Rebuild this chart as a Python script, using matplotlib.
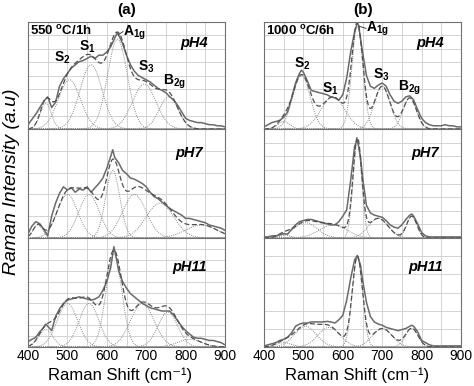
import matplotlib.pyplot as plt
import numpy as np
from matplotlib.ticker import MultipleLocator

plt.rcParams['font.family'] = ['Liberation Sans', 'DejaVu Sans']
plt.rcParams['mathtext.fontset'] = 'custom'
plt.rcParams['mathtext.rm'] = 'Liberation Sans'
plt.rcParams['mathtext.bf'] = 'Liberation Sans:bold'

# ---- spectra (intensity in % of panel height) ----
a_ph4_shift = [400, 410, 420, 430, 440, 450, 460, 470, 480, 490, 500, 510, 520, 530, 540, 550, 560, 570,
               580, 590, 600, 610, 620, 627, 635, 640, 650, 660, 670, 680, 690, 700, 710, 720, 730, 740,
               750, 760, 770, 780, 790, 800, 810, 820, 830, 840, 850, 860, 870, 880, 890, 900]
a_ph4_int = [4, 9, 14, 20, 26, 30, 20, 25, 40, 47, 52, 57, 60, 63, 64, 66, 68, 66,
             69, 69, 72, 77, 85, 90, 84, 80, 69, 60, 54, 50, 48, 46, 44, 41, 38, 36,
             34, 30, 27, 22, 16, 10, 8, 7, 6, 6, 5, 4, 4, 3, 3, 2]

a_ph7_shift = [400, 410, 420, 430, 440, 450, 460, 470, 480, 490, 500, 510, 520, 530, 540, 550, 560, 570,
               580, 590, 600, 610, 615, 620, 630, 640, 650, 660, 670, 680, 690, 700, 710, 720, 730, 740,
               750, 760, 770, 780, 790, 800, 810, 820, 830, 840, 850, 860, 870, 880, 890, 900]
a_ph7_int = [4, 11, 15, 13, 8, 2, 20, 32, 41, 47, 44, 46, 42, 45, 44, 47, 42, 46,
             50, 55, 64, 75, 81, 74, 69, 62, 59, 55, 54, 52, 50, 47, 42, 38, 36, 33,
             30, 27, 25, 23, 21, 18, 18, 17, 16, 15, 14, 12, 11, 10, 9, 7]

a_ph11_shift = [400, 410, 420, 430, 440, 445, 450, 460, 470, 480, 490, 500, 510, 520, 530, 540, 550, 560,
                570, 580, 590, 600, 610, 618, 625, 630, 640, 650, 660, 670, 680, 690, 700, 710, 720, 730,
                740, 750, 760, 770, 780, 790, 800, 810, 820, 830, 840, 850, 860, 870, 880, 890, 900]
a_ph11_int = [5, 7, 9, 14, 18, 21, 19, 15, 28, 35, 40, 43, 44, 45, 46, 45, 44, 43,
              44, 46, 52, 60, 73, 92, 80, 70, 60, 54, 49, 46, 43, 40, 38, 36, 35, 34,
              33, 33, 33, 29, 24, 19, 15, 12, 9, 8, 8, 7, 6, 6, 5, 4, 2]

b_ph4_shift = [400, 410, 420, 430, 440, 450, 460, 470, 480, 490, 495, 500, 510, 520, 530, 540, 550, 560,
               570, 580, 590, 600, 610, 620, 630, 637, 640, 650, 660, 670, 680, 690, 700, 710, 720, 730,
               740, 750, 760, 770, 780, 790, 800, 810, 820, 830, 840, 850, 860, 870, 880, 890, 900]
b_ph4_int = [2, 4, 6, 7, 8, 11, 16, 29, 43, 52, 55, 53, 45, 36, 35, 34, 33, 32,
             30, 29, 27, 32, 48, 72, 91, 99, 97, 72, 50, 40, 38, 41, 43, 40, 32, 26,
             24, 26, 30, 31, 27, 18, 10, 6, 4, 3, 3, 3, 4, 3, 3, 2, 2]

b_ph7_shift = [400, 410, 420, 430, 440, 450, 460, 470, 480, 490, 500, 510, 520, 530, 540, 550, 560, 570,
               580, 590, 600, 610, 620, 630, 637, 645, 650, 660, 670, 680, 690, 700, 710, 720, 730, 740,
               750, 760, 770, 775, 780, 790, 800, 810, 820, 830, 840, 850, 860, 870, 880, 890, 900]
b_ph7_int = [1, 1, 2, 2, 3, 4, 3.5, 8, 12, 15, 16, 17, 17, 16, 15, 14, 13, 12,
             12, 15, 20, 26, 53, 84, 90.5, 74, 56, 30, 23, 21, 20, 19, 16, 12, 10, 9,
             12, 17, 21, 22, 20, 13, 5, 2, 1, 1, 1, 1, 1, 1, 1, 1, 1]

b_ph11_shift = [400, 410, 420, 430, 440, 450, 460, 470, 480, 490, 500, 510, 520, 530, 540, 550, 560, 570,
                580, 590, 600, 610, 620, 630, 637, 645, 650, 660, 670, 680, 690, 700, 710, 720, 730, 740,
                750, 760, 770, 775, 780, 790, 800, 810, 820, 830, 840, 850, 860, 870, 880, 890, 900]
b_ph11_int = [1, 2, 3, 4, 6, 7, 9, 13, 19, 21, 22, 22, 23, 23, 23, 23, 23.5, 23,
              22, 25, 29, 43, 63, 80, 84, 75, 62, 41, 28, 23, 21, 20, 18, 17, 16, 15,
              16, 17, 19, 20, 19, 14, 6, 4, 2, 1, 1, 1, 1, 1, 1, 1, 1]

# ---- fitted peaks: centre (cm-1), height, sigma ----
a_ph4_centre = [445, 505, 560, 627, 695, 757]
a_ph4_height = [24, 46, 60, 84, 42, 30]
a_ph4_sigma = [14, 28, 28, 25, 30, 24]

a_ph7_centre = [425, 500, 555, 615, 670, 735, 840]
a_ph7_height = [12, 40, 40, 62, 40, 32, 12]
a_ph7_sigma = [12, 26, 26, 18, 30, 35, 40]

a_ph11_centre = [445, 500, 555, 618, 690, 755, 810]
a_ph11_height = [16, 40, 40, 85, 40, 32, 7]
a_ph11_sigma = [18, 26, 25, 20, 30, 25, 30]

b_ph4_centre = [450, 495, 575, 637, 700, 770]
b_ph4_height = [7, 50, 30, 96, 40, 29]
b_ph4_sigma = [15, 22, 30, 14, 20, 17]

b_ph7_centre = [450, 505, 575, 637, 690, 775]
b_ph7_height = [3, 14, 12, 88, 18, 20]
b_ph7_sigma = [15, 30, 35, 11, 25, 13]

b_ph11_centre = [450, 505, 565, 637, 700, 775]
b_ph11_height = [4, 19, 18, 82, 17, 17]
b_ph11_sigma = [20, 28, 28, 13, 25, 16]

ph_labels = ['pH4', 'pH7', 'pH11']
grid_rows = [[8, 5, 10], [8, 8, 6]]   # horizontal grid intervals per panel

panels = [
    [(a_ph4_shift, a_ph4_int, a_ph4_centre, a_ph4_height, a_ph4_sigma),
     (a_ph7_shift, a_ph7_int, a_ph7_centre, a_ph7_height, a_ph7_sigma),
     (a_ph11_shift, a_ph11_int, a_ph11_centre, a_ph11_height, a_ph11_sigma)],
    [(b_ph4_shift, b_ph4_int, b_ph4_centre, b_ph4_height, b_ph4_sigma),
     (b_ph7_shift, b_ph7_int, b_ph7_centre, b_ph7_height, b_ph7_sigma),
     (b_ph11_shift, b_ph11_int, b_ph11_centre, b_ph11_height, b_ph11_sigma)],
]

W, H = 474, 386
fig = plt.figure(figsize=(W / 100, H / 100), dpi=100)

col_left = [28, 264]
col_width = 197
row_edges = [22, 129, 238, 347]

xs = np.linspace(400, 900, 501)

def gauss(x, c, h, s):
    return h * np.exp(-(x - c) ** 2 / (2.0 * s ** 2))

axes = {}
for col in range(2):
    for row in range(3):
        top, bot = row_edges[row], row_edges[row + 1]
        ax = fig.add_axes([col_left[col] / W, (H - bot) / H, col_width / W, (bot - top) / H])
        axes[(col, row)] = ax
        shift, inten, centre, height, sigma = panels[col][row]

        total = np.zeros_like(xs)
        for c, h, s in zip(centre, height, sigma):
            comp = gauss(xs, c, h, s)
            total += comp
            ax.plot(xs, comp, color='#8a8a8a', lw=0.7, ls=(0, (1, 1.2)))
        ax.plot(shift, inten, color='#6a6a6a', lw=1.1)
        ax.plot(xs, total, color='#505050', lw=0.9, ls=(0, (4, 2)))

        ax.set_xlim(400, 900)
        ax.set_ylim(0, 100)
        ax.xaxis.set_major_locator(MultipleLocator(100))
        ax.xaxis.set_minor_locator(MultipleLocator(50))
        ax.yaxis.set_major_locator(MultipleLocator(100.0 / grid_rows[col][row]))
        ax.grid(True, which='both', color='#cccccc', lw=0.6)
        ax.set_axisbelow(True)
        ax.tick_params(which='both', length=0, labelleft=False)
        if row < 2:
            ax.tick_params(labelbottom=False)
        else:
            ax.tick_params(labelsize=10, pad=1.5)
        for sp in ax.spines.values():
            sp.set_color('#707070')
            sp.set_linewidth(0.8)

        ax.text(821 if row == 0 else 810, [80, 78, 73][row], ph_labels[row],
                fontsize=10.5, fontweight='bold', fontstyle='italic', ha='center', va='center')

# header texts and peak labels
lab = dict(fontsize=10, fontweight='bold', ha='center', va='center')
ax = axes[(0, 0)]
ax.text(404, 92, '550 $^{\\mathbf{o}}$C/1h', fontsize=9.5, fontweight='bold', ha='left', va='center')
ax.text(488, 67, 'S$_{\\mathbf{2}}$', **lab)
ax.text(551, 77, 'S$_{\\mathbf{1}}$', **lab)
ax.text(642, 90, 'A$_{\\mathbf{1g}}$', fontsize=10, fontweight='bold', ha='left', va='center')
ax.plot([629, 641], [88, 91], color='#404040', lw=0.7)
ax.text(700, 58, 'S$_{\\mathbf{3}}$', **lab)
ax.text(772, 44, 'B$_{\\mathbf{2g}}$', **lab)

ax = axes[(1, 0)]
ax.text(404, 92, '1000 $^{\\mathbf{o}}$C/6h', fontsize=9.5, fontweight='bold', ha='left', va='center')
ax.text(498, 61, 'S$_{\\mathbf{2}}$', **lab)
ax.text(567, 38, 'S$_{\\mathbf{1}}$', **lab)
ax.text(660, 94, 'A$_{\\mathbf{1g}}$', fontsize=10, fontweight='bold', ha='left', va='center')
ax.plot([642, 659], [96, 94], color='#404040', lw=0.7)
ax.text(698, 51, 'S$_{\\mathbf{3}}$', **lab)
ax.text(770, 38, 'B$_{\\mathbf{2g}}$', **lab)

fig.text(127 / W, 1 - 10 / H, '(a)', fontsize=11, fontweight='bold', ha='center', va='center')
fig.text(363 / W, 1 - 10 / H, '(b)', fontsize=11, fontweight='bold', ha='center', va='center')
fig.text(12 / W, 1 - 182 / H, 'Raman Intensity (a.u)', fontsize=14, fontstyle='italic',
         rotation=90, ha='center', va='center')
fig.text(120 / W, 3 / H, 'Raman Shift (cm\u207b\u00b9)', fontsize=12, ha='center', va='bottom')
fig.text(357 / W, 3 / H, 'Raman Shift (cm\u207b\u00b9)', fontsize=12, ha='center', va='bottom')

fig.savefig('out.png', dpi=100)
